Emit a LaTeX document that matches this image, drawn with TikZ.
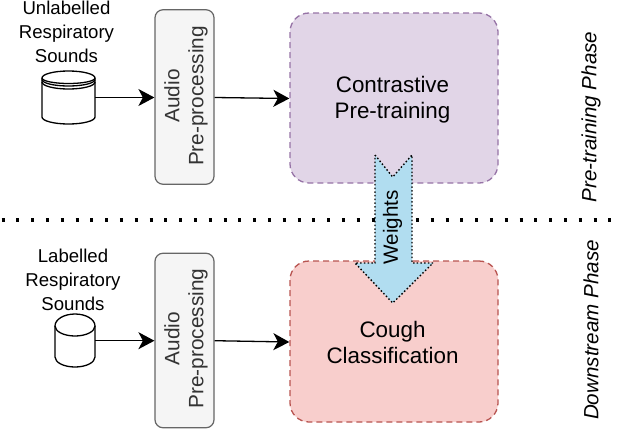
\documentclass[tikz,border=0pt]{standalone}
\usepackage{fontspec}
\setmainfont{Liberation Sans}
\usetikzlibrary{arrows.meta,shapes.geometric,calc}
\definecolor{gborder}{HTML}{666666}
\definecolor{gfill}{HTML}{F5F5F5}
\definecolor{gtext}{HTML}{333333}
\definecolor{pfill}{HTML}{E1D5E7}
\definecolor{pline}{HTML}{9673A6}
\definecolor{rfill}{HTML}{F8CECC}
\definecolor{rline}{HTML}{B85450}
\definecolor{bfill}{HTML}{B1DDF0}
\tikzset{
 x=1pt,y=-1pt,
 txt/.style={font=\fontsize{18.6}{24}\selectfont,align=center,inner sep=0},
 big/.style={font=\fontsize{22.4}{26}\selectfont,align=center,inner sep=0},
 prep/.style={draw=gborder,fill=gfill,line width=1.2pt,rounded corners=8pt,minimum width=59pt,minimum height=174.5pt,inner sep=0},
 preptxt/.style={font=\fontsize{20.8}{24}\selectfont,align=center,rotate=90,inner sep=0,text=gtext},
 phase/.style={rounded corners=19pt,dash pattern=on 6pt off 4pt,line width=1.3pt,minimum width=208pt,inner sep=0},
 conn/.style={line width=1.3pt,-{Stealth[length=16pt,width=17pt,inset=4.5pt]}},
 phlabel/.style={font=\itshape\fontsize{20.6}{24}\selectfont,rotate=90,inner sep=0},
 cyl/.style={line width=1.3pt,fill=white},
 cylline/.style={line width=1.3pt},
}
\begin{document}
\begin{tikzpicture}
\useasboundingbox (0,0) rectangle (620,431);
% separator
\coordinate (sepL) at (1.5,220);
\coordinate (sepR) at (620,220);
\draw[line width=3.2pt,dash pattern=on 3pt off 11.8pt] (sepL) -- (sepR);
% phase boxes
\node[draw=pline,fill=pfill,phase,minimum height=170pt] (pre) at (394,98) {};
\node[big] (pretxt) at (392.5,99.5) {Contrastive\\Pre-training};
\node[draw=rline,fill=rfill,phase,minimum height=161pt] (cls) at (394,341.5) {};
\node[big] (clstxt) at (392.5,342.5) {Cough\\Classification};
% preprocessing
\node[prep] (a1) at (184.5,97) {};
\node[preptxt] (a1t) at (186,96) {Audio\\Pre-processing};
\node[prep] (a2) at (184.5,340.5) {};
\node[preptxt] (a2t) at (186,338.5) {Audio\\Pre-processing};
% upper cylinder
\draw[cyl] (42,78) -- (42,117) arc[start angle=180,end angle=0,x radius=26.5,y radius=7] -- (95,78) arc[start angle=0,end angle=-180,x radius=26.5,y radius=7] -- cycle;
\draw[cylline] (42,78) arc[start angle=180,end angle=0,x radius=26.5,y radius=5.5];
\draw[cylline] (42,79.5) arc[start angle=180,end angle=0,x radius=26.5,y radius=6.5];
\draw[cylline] (42,82) arc[start angle=180,end angle=0,x radius=26.5,y radius=7];
\coordinate (c1r) at (95,97.5);
% lower cylinder
\draw[cyl] (55,326) -- (55,357) arc[start angle=180,end angle=0,x radius=20,y radius=10] -- (95,326) arc[start angle=0,end angle=-180,x radius=20,y radius=12] -- cycle;
\draw[cylline] (55,326) arc[start angle=180,end angle=0,x radius=20,y radius=10];
\coordinate (c2r) at (95,340.7);
% labels
\node[txt] (l1) at (66.5,32) {Unlabelled\\Respiratory\\Sounds};
\node[txt] (l2) at (73,280) {Labelled\\Respiratory\\Sounds};
% connectors
\draw[conn] (c1r) -- (a1.west |- c1r);
\draw[conn] (c2r) -- (a2.west |- c2r);
\draw[conn] (a1.east |- 0,97.5) -- (pre.west |- 0,98.5);
\draw[conn] (a2.east |- 0,340.7) -- (cls.west |- 0,342);
% arrow
\draw[fill=bfill,line width=1.4pt,dash pattern=on 1.5pt off 2.2pt,line join=miter]
 (375,155) -- (392.7,177) -- (412,155) -- (412,263) -- (433,263) -- (392.7,303) -- (355,263) -- (375,263) -- cycle;
\node[font=\fontsize{20.6}{24}\selectfont,rotate=90,inner sep=0] (w) at (392.5,227.5) {Weights};
% phase labels
\node[phlabel] (p1) at (591,117) {Pre-training Phase};
\node[phlabel] (p2) at (591,330) {Downstream Phase};
\end{tikzpicture}
\end{document}
